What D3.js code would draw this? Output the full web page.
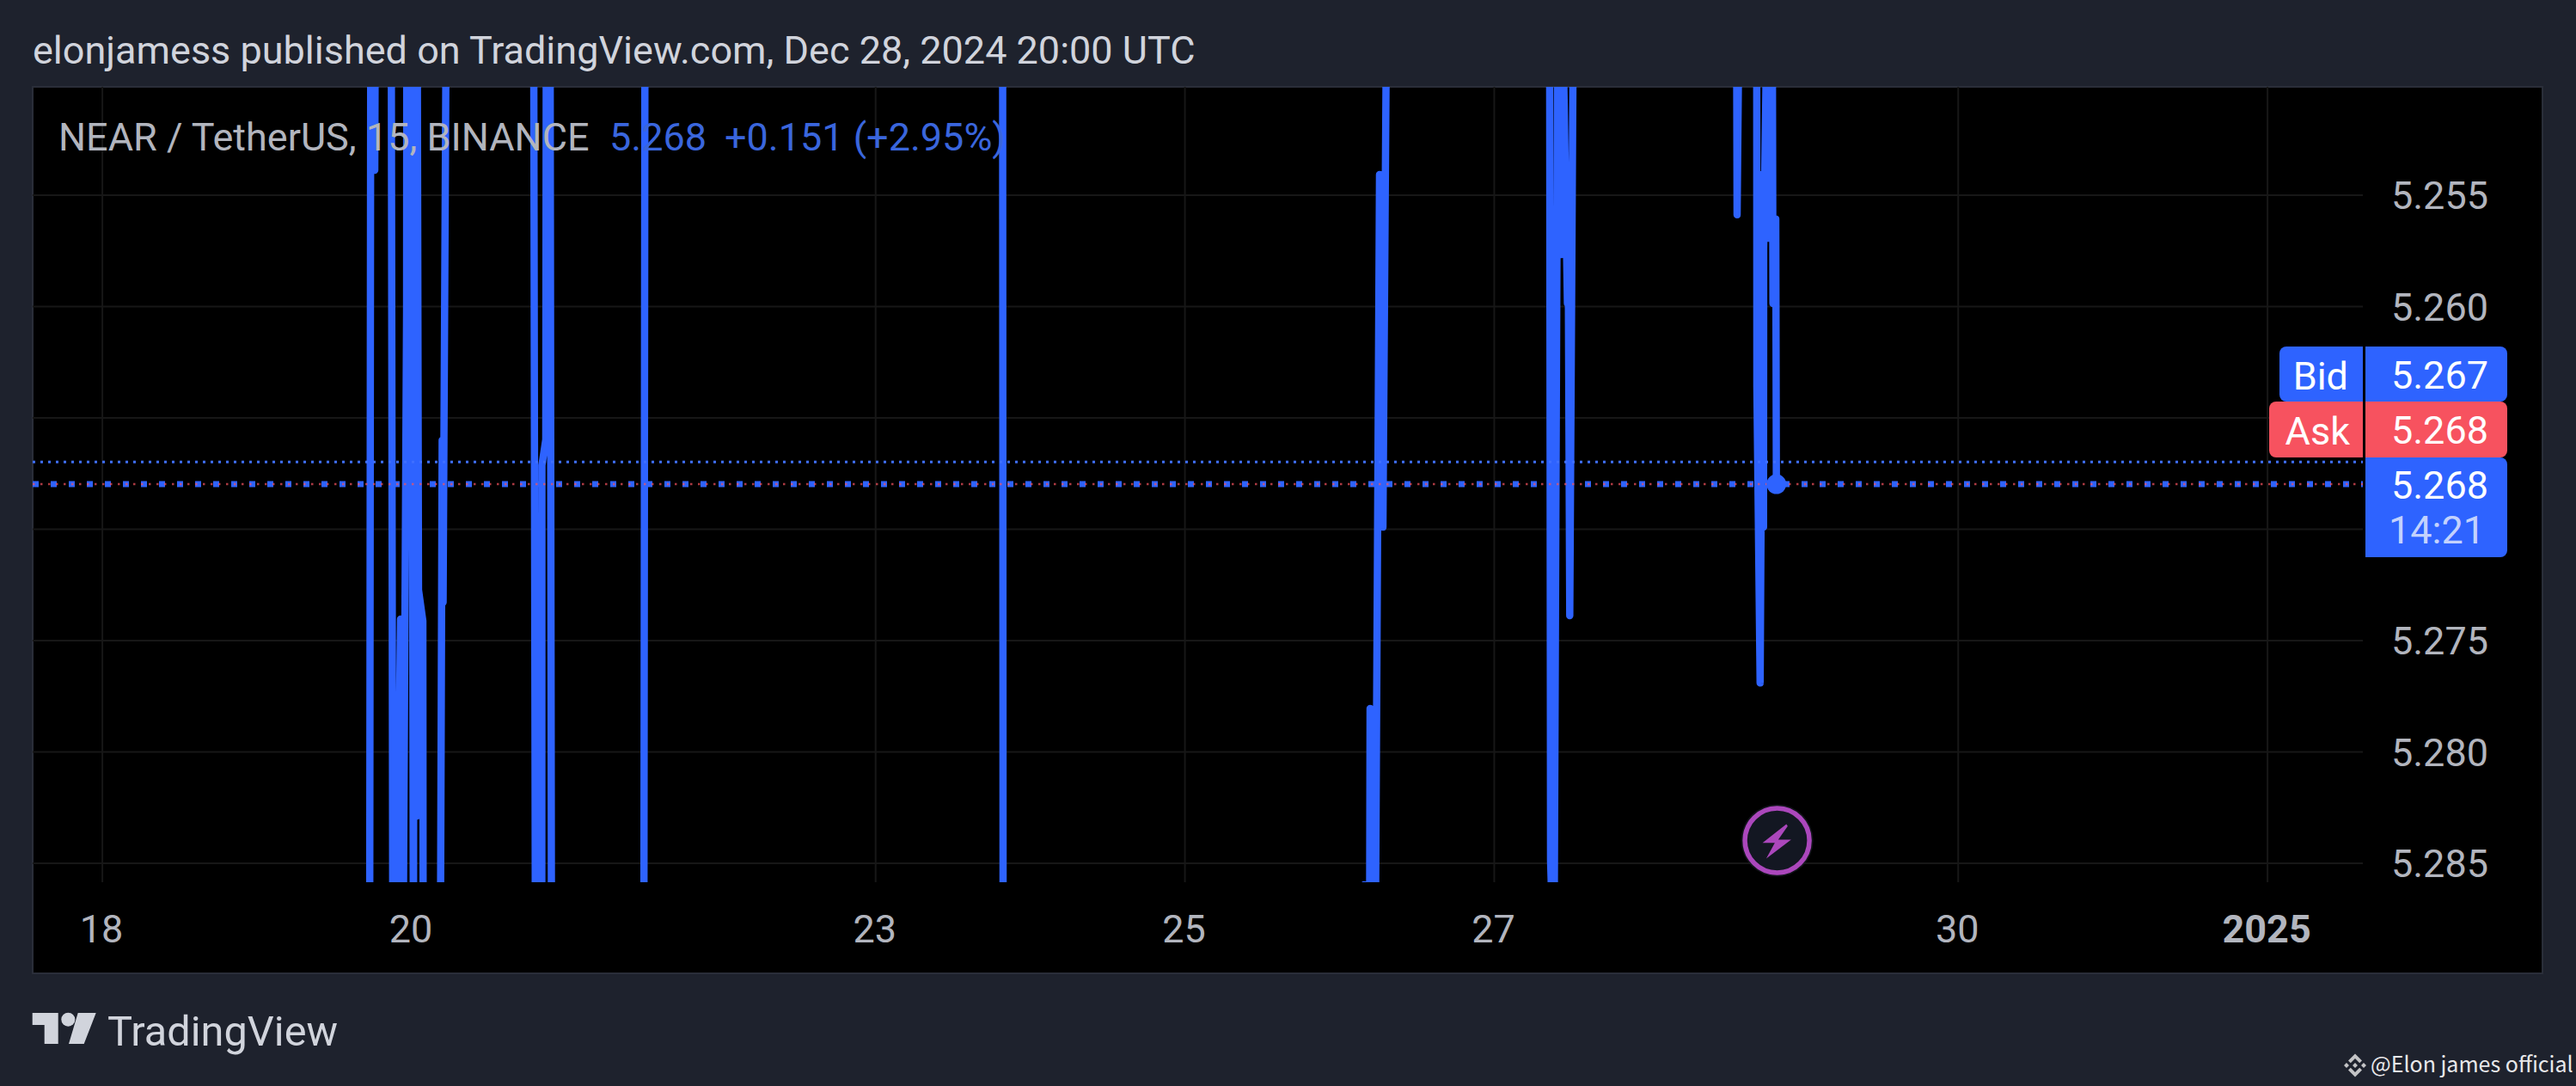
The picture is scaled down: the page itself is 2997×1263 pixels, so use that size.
<!doctype html>
<html>
  <head>
    <meta charset="utf-8">
    <title>NEAR / TetherUS</title>
    <script src="https://d3js.org/d3.v7.min.js"></script>
    <style type="text/css">
      html, body {
        margin: 0;
        background-color: #1e222d;
        overflow: hidden;
      }
      text { font-family: Roboto, sans-serif; }
    </style>
  </head>
  <body>
    <script>
// day of month (Dec 2024) and close price
// 5.248 and 5.29 stand for closes beyond the visible range of the zoomed price scale
var days = [
  19.731, 19.738, 19.760, 19.764, 19.767, 19.871, 19.881, 19.903, 19.931, 19.947,
  19.970, 19.971, 20.003, 20.014, 20.022, 20.038, 20.039, 20.047, 20.075, 20.077,
  20.188, 20.200, 20.206, 20.225, 20.792, 20.803, 20.844, 20.845, 20.870, 20.873,
  20.898, 20.907, 21.504, 21.511, 23.824, 23.827, 26.156, 26.161, 26.167, 26.196,
  26.200, 26.233, 26.261, 26.283, 26.305, 27.361, 27.367, 27.389, 27.414, 27.437,
  27.448, 27.476, 27.480, 27.491, 27.513, 28.570, 28.573, 28.584, 28.700, 28.701,
  28.722, 28.741, 28.744, 28.745, 28.764, 28.773, 28.779, 28.801, 28.805, 28.823,
  28.827
];
var prices = [
  5.29, 5.248, 5.248, 5.2539, 5.248, 5.248, 5.29, 5.29, 5.27406, 5.29,
  5.26016, 5.248, 5.248, 5.29, 5.248, 5.2829, 5.248, 5.27275, 5.27414, 5.29,
  5.29, 5.26603, 5.27329, 5.248, 5.248, 5.29, 5.29, 5.26715, 5.26599, 5.248,
  5.248, 5.29, 5.29, 5.248, 5.248, 5.29, 5.29, 5.28599, 5.29, 5.29,
  5.27807, 5.29, 5.2541, 5.26993, 5.248, 5.248, 5.28491, 5.29, 5.248, 5.25769,
  5.248, 5.25989, 5.25603, 5.2739, 5.248, 5.248, 5.2559, 5.248, 5.248, 5.26363,
  5.27692, 5.25406, 5.26993, 5.25746, 5.248, 5.25695, 5.248, 5.248, 5.25989, 5.25609,
  5.268
];
var gridPrices = [5.255, 5.26, 5.265, 5.27, 5.275, 5.28, 5.285];
var labelPrices = [5.255, 5.26, 5.275, 5.28, 5.285];
var tickDays = [18, 20, 23, 25, 27, 30, 32];
var tickLabels = ["18", "20", "23", "25", "27", "30", "2025"];
var bid = 5.267, ask = 5.268, last = 5.268;
var title = "elonjamess published on TradingView.com, Dec 28, 2024 20:00 UTC";
var legendName = "NEAR / TetherUS, 15, BINANCE";
var legendLast = "5.268";
var legendChange = "+0.151 (+2.95%)";
var countdown = "14:21";

var w = 2997, h = 1263;
var blue = "#2e63ff", red = "#f7525f";
var left = 38, right = 2958, top_ = 101, bottom = 1132;
var plotRight = 2749, plotBottom = 1026;

var x = d3.scaleLinear().domain([18, 32]).range([118.6, 2637.6]);
var y = d3.scaleLinear().domain([5.255, 5.285]).range([226.4, 1003.4]);

var svg = d3.select("body").append("svg")
  .attr("width", w)
  .attr("height", h)
  .style("display", "block");

svg.append("text").attr("x", 38).attr("y", 74)
  .attr("font-size", 45).attr("fill", "#d1d4dc").text(title);

// panel
svg.append("rect")
  .attr("x", left).attr("y", top_)
  .attr("width", right - left).attr("height", bottom - top_)
  .attr("fill", "#000000").attr("stroke", "#2a2e39").attr("stroke-width", 2);

svg.append("clipPath").attr("id", "plot").append("rect")
  .attr("x", left).attr("y", top_)
  .attr("width", plotRight - left).attr("height", plotBottom - top_);

// grid, from the axes
var gridX = svg.append("g").attr("transform", "translate(0," + plotBottom + ")")
  .call(d3.axisBottom(x).tickValues(tickDays).tickSize(top_ - plotBottom).tickFormat(""));
var gridY = svg.append("g").attr("transform", "translate(" + left + ",0)")
  .call(d3.axisRight(y).tickValues(gridPrices).tickSize(plotRight - left).tickFormat(""));
[gridX, gridY].forEach(function(g) {
  g.select(".domain").remove();
  g.selectAll("line").attr("stroke", "#171717").attr("stroke-width", 2);
});

var plot = svg.append("g").attr("clip-path", "url(#plot)");

var line = d3.line()
  .x(function(d, i) { return x(days[i]); })
  .y(function(d) { return y(d); });

plot.append("path")
  .attr("d", line(prices))
  .attr("fill", "none")
  .attr("stroke", blue)
  .attr("stroke-width", 8.5)
  .attr("stroke-linejoin", "round");

// bid, last and ask price lines
function priceLine(value, color, width, dash, opacity) {
  plot.append("line")
    .attr("x1", left).attr("x2", plotRight)
    .attr("y1", y(value)).attr("y2", y(value))
    .attr("stroke", color)
    .attr("stroke-width", width)
    .attr("stroke-opacity", opacity)
    .attr("stroke-dasharray", dash);
}
priceLine(bid, "#3f6fff", 3, "3,6", 1);
priceLine(last, blue, 7, "7,14", 1);
priceLine(ask, red, 2.5, "2.5,6.5", 0.7);

// last point
svg.append("circle")
  .attr("cx", x(days[days.length - 1]))
  .attr("cy", y(last))
  .attr("r", 11.5)
  .attr("fill", blue);

// purple bolt marker
var bolt = svg.append("g")
  .attr("transform", "translate(" + x(28.832) + "," + y(5.284) + ")");
bolt.append("circle").attr("r", 42).attr("fill", "#1e222d").attr("opacity", 0.6);
bolt.append("circle").attr("r", 37.5).attr("fill", "#131722")
  .attr("stroke", "#ab47bc").attr("stroke-width", 5.5);
bolt.append("polygon")
  .attr("points", "10.7,-19 -17,2.7 -2.7,2.7 -12.7,21 16.3,-1 1.3,-1 12.3,-16.7")
  .attr("fill", "#ab47bc");

// legend sits on top of the line
var legend = svg.append("text").attr("y", 175).attr("font-size", 45);
legend.append("tspan").attr("x", 68).attr("fill", "#b2b5be").text(legendName);
legend.append("tspan").attr("x", 709).attr("fill", "#3a66dd").text(legendLast);
legend.append("tspan").attr("x", 843).attr("fill", "#3a66dd").text(legendChange);

// price axis
var priceAxis = svg.append("g").attr("transform", "translate(2895,2)")
  .call(d3.axisLeft(y).tickValues(labelPrices).tickSize(0).tickPadding(0).tickFormat(d3.format(".3f")));
priceAxis.select(".domain").remove();
priceAxis.selectAll("text")
  .attr("font-family", "Roboto, sans-serif")
  .attr("font-size", 45)
  .attr("fill", "#b2b5be");

// time axis
var timeAxis = svg.append("g").attr("transform", "translate(-1,1064)")
  .call(d3.axisBottom(x).tickValues(tickDays).tickSize(0).tickPadding(0)
    .tickFormat(function(d, i) { return tickLabels[i]; }));
timeAxis.select(".domain").remove();
timeAxis.selectAll("text")
  .attr("font-family", "Roboto, sans-serif")
  .attr("font-size", 45)
  .attr("fill", "#b2b5be")
  .attr("dy", "0.71em")
  .attr("font-weight", function(d) { return d === 32 ? 700 : 400; });

// badge with rounded left or right corners
function badge(x0, x1, y0, y1, rl, rr, color) {
  var r0 = rl, r1 = rr;
  svg.append("path")
    .attr("d", "M" + (x0 + r0) + "," + y0 + "H" + (x1 - r1) +
      "A" + r1 + "," + r1 + " 0 0 1 " + x1 + "," + (y0 + r1) +
      "V" + (y1 - r1) +
      "A" + r1 + "," + r1 + " 0 0 1 " + (x1 - r1) + "," + y1 +
      "H" + (x0 + r0) +
      "A" + r0 + "," + r0 + " 0 0 1 " + x0 + "," + (y1 - r0) +
      "V" + (y0 + r0) +
      "A" + r0 + "," + r0 + " 0 0 1 " + (x0 + r0) + "," + y0 + "Z")
    .attr("fill", color);
}
function badgeText(str, xr, yb, color) {
  svg.append("text").attr("x", xr).attr("y", yb)
    .attr("text-anchor", "end").attr("font-size", 45)
    .attr("fill", color).text(str);
}
badge(2652, 2749, 403, 467, 8, 0, blue);
badge(2752, 2917, 403, 467, 0, 8, blue);
badge(2640, 2749, 467, 532, 8, 0, red);
badge(2752, 2917, 467, 532, 0, 8, red);
badge(2752, 2917, 532, 648, 0, 8, blue);
badgeText("Bid", 2732, 452.5, "#ffffff");
badgeText(d3.format(".3f")(bid), 2895, 452, "#ffffff");
badgeText("Ask", 2734, 516.5, "#ffffff");
badgeText(d3.format(".3f")(ask), 2895, 515.5, "#ffffff");
badgeText(d3.format(".3f")(last), 2895, 580, "#ffffff");
badgeText(countdown, 2891, 632, "#c3d2fd");

// TradingView logo
var logoColor = "#d1d4dc";
svg.append("path")
  .attr("d", "M37.7,1178H67.7V1214H51.7V1192H37.7Z M90.7,1178H111.7L97.7,1214H80Z")
  .attr("fill", logoColor);
svg.append("circle").attr("cx", 79.3).attr("cy", 1185.7).attr("r", 8).attr("fill", logoColor);
svg.append("text").attr("x", 125).attr("y", 1215.7)
  .attr("font-size", 48.7).attr("fill", logoColor).text("TradingView");

// watermark
var mark = svg.append("g").attr("transform", "translate(2740,1239)").attr("fill", "#c4c4c6");
mark.append("path").attr("d",
  "M0,-13.5L8,-5.5L5.2,-2.7L0,-7.9L-5.2,-2.7L-8,-5.5Z" +
  "M0,13.5L8,5.5L5.2,2.7L0,7.9L-5.2,2.7L-8,5.5Z" +
  "M0,-3L3,0L0,3L-3,0Z M-10,-3L-7,0L-10,3L-13,0Z M10,-3L13,0L10,3L7,0Z");
svg.append("text").attr("x", 2758).attr("y", 1247)
  .attr("font-size", 25).attr("fill", "#e8e8ea")
  .style("font-family", "'Noto Sans CJK SC', 'Noto Sans', sans-serif")
  .text("@Elon james official");
    </script>
  </body>
</html>
